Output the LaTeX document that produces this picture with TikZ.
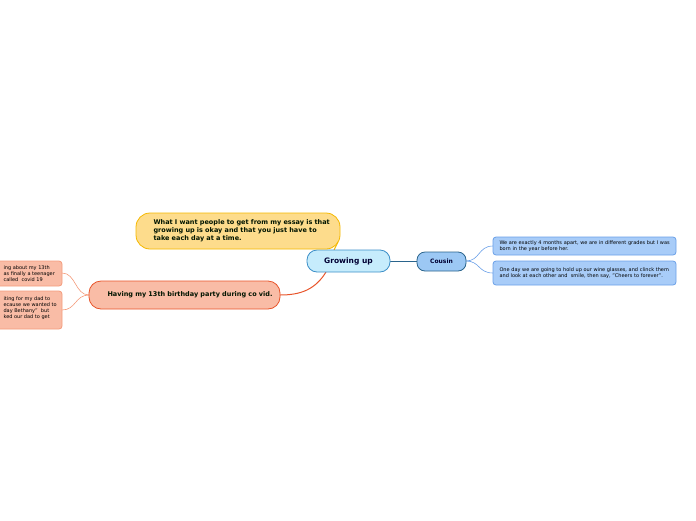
\documentclass[tikz,border=0pt]{standalone}
\usepackage{fontspec}
\setmainfont{DejaVu Sans}
\begin{document}
\begin{tikzpicture}[x=1pt,y=-1pt,
  box/.style={draw,rounded corners=#1,line width=0.8pt},
  box/.default=8pt,
  small/.style={font=\fontsize{5}{6}\selectfont,align=left,text width=172pt,anchor=west},
  bold/.style={font=\bfseries\fontsize{6.5}{8}\selectfont,align=left,text=black!80!green!40!black}]
\useasboundingbox (0,0) rectangle (696,520);
\clip (0,0) rectangle (696,520);
\definecolor{cblue}{HTML}{C6ECFC}\definecolor{cbluel}{HTML}{3C8FC8}
\definecolor{cous}{HTML}{9CC8F4}\definecolor{rbox}{HTML}{A8CCF8}\definecolor{rline}{HTML}{6AA0E8}
\definecolor{yel}{HTML}{FDDC8C}\definecolor{yell}{HTML}{F5B800}
\definecolor{ora}{HTML}{F9BCA6}\definecolor{oral}{HTML}{E8542A}\definecolor{oral2}{HTML}{F49C7C}
% connectors
\coordinate (cR) at (390,261);\coordinate (kL) at (417,261);
\draw[cbluel!70!black,line width=1pt] (cR) -- (kL);
\coordinate (kR) at (466,261);\coordinate (r1) at (493,246);\coordinate (r2) at (493,273);
\draw[rline,line width=0.6pt] (kR) .. controls (480,261) and (478,246) .. (r1);
\draw[rline,line width=0.6pt] (kR) .. controls (480,261) and (478,273) .. (r2);
\coordinate (cB) at (326,272);\coordinate (oR) at (280,295);
\draw[oral,line width=1pt] (cB) .. controls (315,290) and (300,295) .. (oR);
\coordinate (cT) at (334,250);\coordinate (yB) at (338,242);
\draw[yell,line width=1pt] (cT) -- (yB);
\coordinate (oL) at (89,295);\coordinate (l1) at (62,273);\coordinate (l2) at (62,310);
\draw[oral2,line width=0.6pt] (oL) .. controls (75,295) and (76,273) .. (l1);
\draw[oral2,line width=0.6pt] (oL) .. controls (75,295) and (76,310) .. (l2);
% nodes
\draw[box=10pt,fill=cblue,draw=cbluel] (307,250) rectangle (390,272);
\node[font=\bfseries\fontsize{7.5}{9}\selectfont,text=black!80!blue] (center) at (348.5,261) {Growing up};
\draw[box=8pt,fill=cous,draw=cbluel!70!black] (417,252) rectangle (466,271);
\node[font=\bfseries\fontsize{6}{7}\selectfont,text=black!80!blue] (cousin) at (441.5,261.5) {Cousin};
\draw[box=3pt,fill=rbox,draw=rline] (493,237) rectangle (676,255);
\node[small] (r1t) at (496,246) {We are exactly 4 months apart, we are in different grades but I was born in the year before her.};
\draw[box=3pt,fill=rbox,draw=rline] (493,261) rectangle (676,285);
\node[small] (r2t) at (496,273) {One day we are going to hold up our wine glasses, and clinck them and look at each other and\ \ smile, then say, "Cheers to forever".};
\draw[box=14pt,fill=yel,draw=yell] (136,213) rectangle (340,249);
\node[bold,text width=180pt,anchor=west] (yt) at (150,231) {What I want people to get from my essay is that growing up is okay and that you just have to take each day at a time.};
\draw[box=12pt,fill=ora,draw=oral] (89,281) rectangle (280,309);
\node[bold,text width=170pt,anchor=west] (ot) at (104,295) {Having my 13th birthday party during co vid.};
\draw[box=3pt,fill=ora,draw=oral2] (-20,261) rectangle (62,286);
\node[font=\fontsize{5}{6}\selectfont,align=left,anchor=west] (l1t) at (0,273.5) {ing about my 13th\\as finally a teenager\\called\ \ covid 19};
\draw[box=3pt,fill=ora,draw=oral2] (-20,291) rectangle (62,329);
\node[font=\fontsize{5}{6}\selectfont,align=left,anchor=west] (l2t) at (0,308) {iting for my dad to\\ecause we wanted to\\day Bethany"\ \ but\\ked our dad to get};
\end{tikzpicture}
\end{document}
